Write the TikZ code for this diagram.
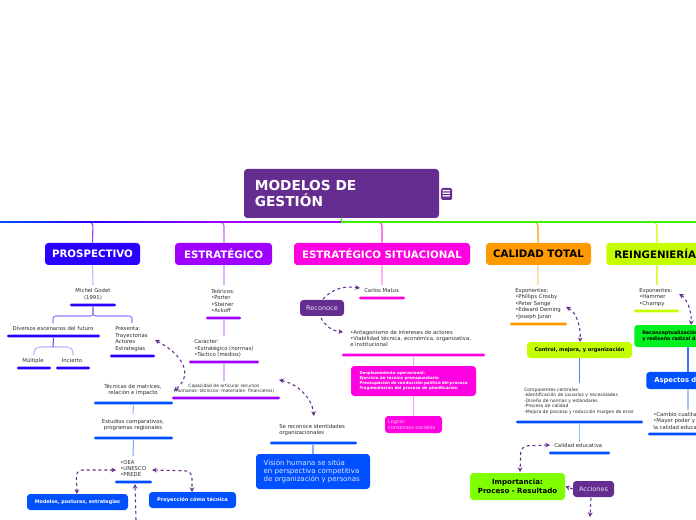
\documentclass[tikz,border=0pt]{standalone}
\usepackage{fontspec}
\setmainfont{DejaVu Sans}
\usetikzlibrary{arrows.meta}
\definecolor{cTitle}{HTML}{662D91}
\definecolor{cBlue}{HTML}{0050FF}
\definecolor{cIndigo}{HTML}{2A00FF}
\definecolor{cPurple}{HTML}{A000FF}
\definecolor{cPink}{HTML}{FF00E0}
\definecolor{cOrange}{HTML}{FF9900}
\definecolor{cLime}{HTML}{C4FF00}
\definecolor{cGreen}{HTML}{80FF00}
\definecolor{cVivid}{HTML}{00F020}
\definecolor{cRail}{HTML}{3CF000}
\definecolor{cText}{HTML}{2A2A2A}
\newcommand{\fs}[2]{\fontsize{#1pt}{#2pt}\selectfont}
\newcommand{\bx}[7]{\node[boxbase,fill=#6,minimum width={(#4-#2)*0.75pt},minimum height={(#5-#3)*0.75pt}] (#1) at ({(#2+#4)/2},{(#3+#5)/2}) {#7};}
\newcommand{\barx}[5]{\node[barbase,fill=#5,minimum width={(#3-#2)*0.75pt}] (#1) at ({(#2+#3)/2},#4) {};}
\tikzset{
  boxbase/.style={rounded corners=2.5pt,inner sep=0pt,align=center,text=white},
  barbase/.style={rounded corners=1pt,inner sep=0pt,minimum height=2.2pt},
  lefttxt/.style={anchor=west,inner sep=0pt,align=left,text=cText,font=\fs{4}{4.85}},
  midtxt/.style={inner sep=0pt,align=center,text=cText,font=\fs{4}{4.85}},
  lnk/.style={line width=0.8pt,draw=#1},
  soft/.style={line width=0.8pt,draw=#1,rounded corners=3pt},
  dl/.style={draw=cTitle,line width=0.8pt,dash pattern=on 2.2pt off 2.2pt,{Stealth[length=3.5pt,width=3.5pt]}-{Stealth[length=3.5pt,width=3.5pt]}},
  dlone/.style={draw=cTitle,line width=0.8pt,dash pattern=on 2.2pt off 2.2pt,-{Stealth[length=3.5pt,width=3.5pt]}}
}
\begin{document}
\begin{tikzpicture}[x=0.75pt,y=-0.75pt]
\useasboundingbox (0,0) rectangle (696,520);
\clip (0,0) rectangle (696,520);
\coordinate (r1) at (93,222);
\coordinate (r2) at (224,222);
\coordinate (rm) at (341,222);
\coordinate (r3) at (382,222);
\coordinate (r4) at (538,222);
\coordinate (r5) at (657,222);
% title
\bx{title}{244}{169}{439}{218}{cTitle}{\begin{minipage}{130pt}\bfseries\fs{10.3}{12.4}MODELOS DE\\GESTIÓN\end{minipage}}
\node[boxbase,fill=cTitle,rounded corners=1.2pt,minimum width=8.4pt,minimum height=9pt,font=\bfseries\fs{9}{9}] (menu) at (446.5,194) {≡};
\draw[cRail,line width=0.9pt] (title.south) -- (rm);
% PROSPECTIVO
\bx{pros}{45}{243}{140}{265}{cIndigo}{\bfseries\fs{7.7}{10}PROSPECTIVO}
\draw[soft=cIndigo!50!cPurple!75] ([xshift=-6]r1) -- (r1) -- (pros.north);
\node[midtxt] (godet) at (93,294.5) {Michel Godet\\(1991)};
\barx{bgodet}{70}{116}{305}{cIndigo}
\draw[lnk=cIndigo!30] (pros.south) -- (93,285);
\node[midtxt] (dive) at (53,329) {Diversos escenarios del futuro};
\barx{bdive}{7}{100}{336}{cIndigo}
\node[lefttxt] (pres) at (115,339) {Presenta:\\Trayectorias\\Actores\\Estrategias};
\barx{bpres}{110}{155}{356}{cIndigo}
\draw[soft=cIndigo!50,rounded corners=2pt] (bgodet.south) -- (93,316) -| (53,323);
\draw[soft=cIndigo!50,rounded corners=2pt] (bgodet.south) -- (93,316) -| (132,323);
\node[midtxt] (mul) at (33,361) {Múltiple};
\barx{bmul}{17}{51}{368}{cIndigo}
\node[midtxt] (inc) at (72,361) {Incierto};
\barx{binc}{56}{90}{368}{cIndigo}
\draw[soft=cIndigo!30,rounded corners=4pt] (34,355) -- (34,347) -- (73,347) -- (73,355);
\draw[lnk=cIndigo!70] (bdive.south) -- (53,347);
\node[midtxt] (tec) at (133,390) {Técnicas de matrices,\\relación e impacto};
\barx{btec}{94}{173}{403}{cBlue}
\node[midtxt] (est) at (133,425) {Estudios comparativos,\\programas regionales};
\barx{best}{94}{173}{438}{cBlue}
\draw[lnk=cBlue!40] (btec.south) -- (133,414);
\node[lefttxt] (oea) at (120,468.5) {•OEA\\•UNESCO\\•PREDE};
\barx{boea}{115}{152}{482}{cBlue}
\draw[lnk=cBlue!50] (best.south) -- (133,456);
\bx{mod}{27}{494}{128}{510}{cBlue}{\bfseries\fs{3.65}{5}Modelos, posturas, estrategias}
\bx{proy}{149}{492}{236}{508}{cBlue}{\bfseries\fs{3.8}{5}Proyección cómo técnica}
\coordinate (oeaL) at (116,470);
\coordinate (oeaR) at (152,470);
\coordinate (below) at (136,520);
\coordinate (oeaB) at (135,484);
\draw[dl,rounded corners=5pt] (oeaL) -- (76,470) -- (77,494);
\draw[dl,rounded corners=5pt] (oeaR) -- (192,471) -- (192,492);
\draw[dlone] (below) -- (oeaB);
% ESTRATEGICO
\bx{estr}{175}{243}{272}{265}{cPurple}{\bfseries\fs{7.7}{10}ESTRATÉGICO}
\draw[soft=cPurple!60] ([xshift=-6]r2) -- (r2) -- (estr.north -| r2);
\node[lefttxt] (teo) at (211,301) {Teóricos:\\•Porter\\•Steiner\\•Ackoff};
\barx{bteo}{206}{241}{318}{cPurple}
\draw[lnk=cPurple!30] (estr.south -| r2) -- (224,285);
\node[lefttxt] (car) at (194,348.5) {Carácter:\\•Estratégico (normas)\\•Táctico (medios)};
\barx{bcar}{189}{259}{362}{cPurple}
\draw[lnk=cPurple!30] (bteo.south -| r2) -- (224,336);
\node[midtxt,font=\fs{3.35}{3.9}] (cap) at (224,388.7) {Capacidad de articular recursos\\(Humanos- técnicos- materiales- financieros)};
\barx{bcap}{172}{280}{398}{cPurple}
\draw[lnk=cPurple!30] (bcar.south -| r2) -- (224,381);
\coordinate (presE) at (155,340);
\coordinate (capW) at (174,391);
\draw[dl] (presE) .. controls (178,352) and (196,372) .. (capW);
% SITUACIONAL
\bx{sit}{294}{243}{470}{265}{cPink}{\bfseries\fs{7.7}{10}ESTRATÉGICO SITUACIONAL}
\draw[soft=cPink!80] ([xshift=-6]r3) -- (r3) -- (sit.north -| r3);
\draw[lnk=cPink!30] (sit.south -| r3) -- (382,285);
\node[lefttxt] (mat) at (364,291) {Carlos Matus};
\barx{bmat}{359}{405}{298}{cPink}
\bx{rec}{300}{300}{344}{316}{cTitle}{\fs{4.9}{5}\color{white!85!cTitle}Reconoce}
\node[lefttxt] (ant) at (350,338.5) {•Antagonismo de intereses de actores\\•Viabilidad técnica, económica,  organizativa,\\e institucional};
\barx{bant}{342}{485}{355}{cPink}
\coordinate (matW) at (360,288);
\coordinate (antW) at (343,332);
\draw[dlone] (323,299) .. controls (333,288) and (345,286) .. (matW);
\draw[dlone] (321,318) .. controls (326,327) and (333,331) .. (antW);
\bx{desp}{351}{366}{476}{396}{cPink}{\begin{minipage}{81pt}\bfseries\fs{3}{3.75}Desplazamiento operacional:\\Ejercicio de técnica presupuestaria\\Preocupación de conducción política del proceso\\Fragmentación del proceso de planificación\end{minipage}}
\draw[lnk=cPink!40] (bant.south -| desp.north) -- (desp.north);
\bx{log}{385}{416}{442}{433}{cPink}{\begin{minipage}{38pt}\color{white!80!cPink}\fs{3.7}{4.6}Lograr:\\consensos sociales\end{minipage}}
\draw[lnk=cPink!40] (desp.south -| log.north) -- (log.north);
\node[lefttxt] (sere) at (279,430) {Se reconoce identidades\\organizacionales};
\barx{bsere}{270}{357}{443}{cBlue}
\coordinate (capE) at (279,380);
\coordinate (sereT) at (314,416);
\draw[dl] (capE) .. controls (298,384) and (312,398) .. (sereT);
\bx{vis}{256}{454}{370}{489}{cBlue}{\begin{minipage}{74pt}\color{white!85!cBlue}\fs{5.25}{6.1}Visión humana se sitúa\\en perspectiva competitiva\\de organización y personas\end{minipage}}
\draw[lnk=cBlue!45] (bsere.south -| vis.north) -- (vis.north);
% CALIDAD
\bx{cal}{486}{243}{591}{265}{cOrange}{\bfseries\color{black}\fs{7.7}{10}CALIDAD TOTAL}
\draw[soft=cOrange] ([xshift=-6]r4) -- (r4) -- (cal.north -| r4);
\draw[lnk=cOrange!30] (cal.south -| r4) -- (538,285);
\node[lefttxt] (expo) at (515,304) {Exponentes:\\•Phillips Crosby\\•Peter Senge\\•Edward Deming\\•Joseph Juran};
\barx{bexpo}{510}{567}{324}{cOrange}
\bx{ctrl}{527}{342}{632}{358}{cLime}{\bfseries\color{black}\fs{3.8}{5}Control, mejora, y organización}
\coordinate (expoE) at (566,307);
\coordinate (ctrlT) at (580,342);
\draw[dl] (expoE) .. controls (576,312) and (581,326) .. (ctrlT);
\node[lefttxt,font=\fs{3.4}{4.2}] (comp) at (524,401) {Componentes centrales\\-Identificación de usuarios y necesidades\\-Diseño de normas y estándares\\-Proceso de calidad\\-Mejora de proceso y reducción margen de error};
\barx{bcomp}{516}{643}{422}{cBlue}
\coordinate (ctrlB) at (579.5,358);
\coordinate (compT) at (579.5,383);
\draw[lnk=cBlue!70] (ctrlB) -- (compT);
\node[lefttxt] (cedu) at (554,446) {Calidad educativa};
\barx{bcedu}{549}{610}{453}{cBlue}
\draw[lnk=cBlue!40] (bcomp.south) -- (579.5,442);
\bx{imp}{470}{473}{565}{500}{cGreen}{\begin{minipage}{68pt}\centering\bfseries\color{black}\fs{5.3}{6.9}Importancia:\\Proceso - Resultado\end{minipage}}
\bx{acc}{573}{481}{614}{497}{cTitle}{\fs{4.9}{5}\color{white!85!cTitle}Acciones}
\coordinate (cedW) at (550,445);
\coordinate (impT) at (520,472);
\draw[dl,rounded corners=5pt] (cedW) -- (521,446) -- (impT);
\draw[dlone] (acc.west) -- (imp.east);
\coordinate (accB) at (590,517);
\coordinate (accS) at (591,498);
\draw[dlone] (accS) -- (accB);
% REINGENIERIA
\node[boxbase,fill=cLime,minimum height=16.5pt,inner xsep=6pt,text width=105pt,align=left,anchor=west,text=black,font=\bfseries\fs{7.7}{10}] (rei) at (606,254) {REINGENIERÍA};
\draw[soft=cLime] ([xshift=-6]r5) -- (r5) -- (657,243);
\draw[lnk=cLime!70] (657,265) -- (657,285);
\node[lefttxt] (expr) at (639,297.5) {Exponentes:\\•Hammer\\•Champy};
\barx{bexpr}{634}{679}{311}{cLime}
\node[boxbase,fill=cVivid,minimum height=16.5pt,inner xsep=6pt,text width=110pt,align=left,anchor=west,text=black,font=\bfseries\fs{3.6}{4.7}] (reco) at (634,336) {Reconceptualización\\y rediseño radical de};
\coordinate (exprE) at (679,294);
\coordinate (recoT) at (691,325);
\draw[dl] (exprE) .. controls (686,298) and (692,310) .. (recoT);
\node[boxbase,fill=cBlue,minimum height=12.8pt,inner xsep=6pt,text width=100pt,align=left,anchor=west,font=\bfseries\fs{5.1}{6}] (asp) at (646,380.5) {Aspectos de};
\draw[lnk=cBlue!80] (688,347) -- (688,372);
\node[lefttxt] (camb) at (653,421) {•Cambio cualitativo\\•Mayor poder y empoderamiento\\la calidad educativa};
\barx{bcamb}{648}{740}{434}{cBlue}
\draw[lnk=cBlue!35] (688,389) -- (688,410);
% rails, above the connectors that leave them
\shade[left color=cBlue,right color=cIndigo] (0,221.4) rectangle (93,222.6);
\shade[left color=cIndigo,right color=cPurple] (93,221.4) rectangle (224,222.6);
\fill[cPurple] (224,221.4) rectangle (341,222.6);
\fill[cRail] (341,221.4) rectangle (696,222.6);
\end{tikzpicture}
\end{document}
